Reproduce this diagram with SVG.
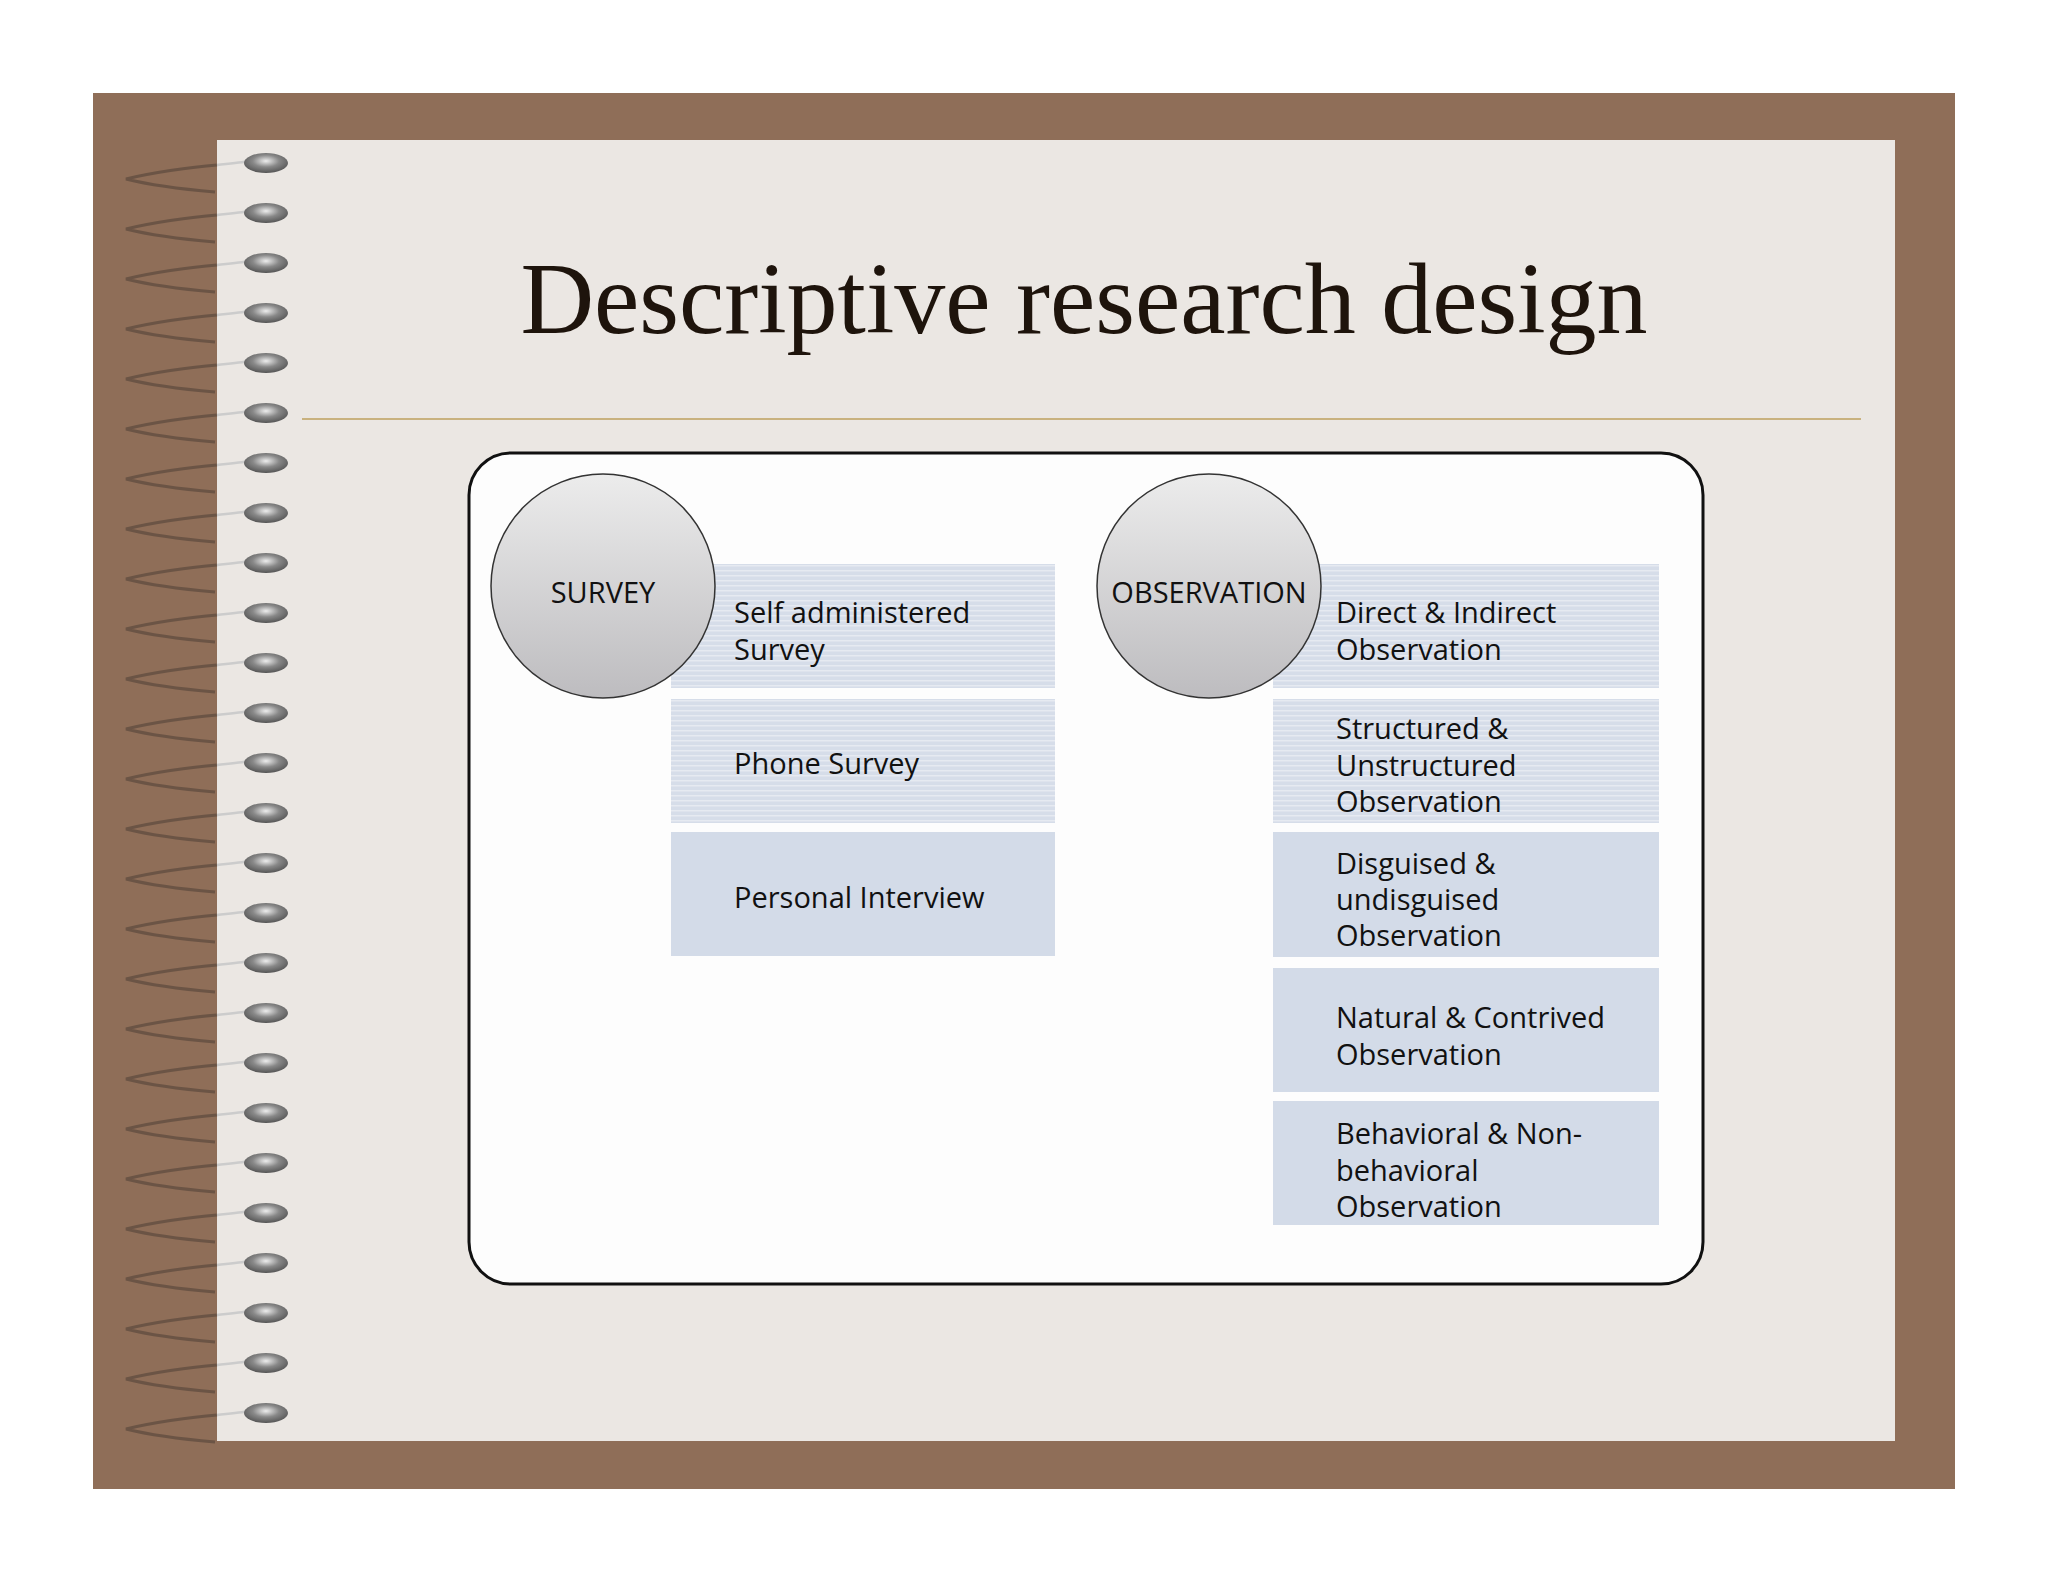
<svg xmlns="http://www.w3.org/2000/svg" width="2048" height="1582" viewBox="0 0 2048 1582">
<defs>
<style>
.t{font-family:"Open Sans","Noto Sans","Liberation Sans",sans-serif;font-size:29px;fill:#111}
.c{font-family:"Open Sans","Noto Sans","Liberation Sans",sans-serif;font-size:29px;fill:#111;text-anchor:middle}
.box{fill:url(#stripe)}
.box2{fill:#d3dbe8}
.circ{fill:url(#cg);stroke:#333;stroke-width:1.5}
</style>
<pattern id="stripe" width="8" height="5" patternUnits="userSpaceOnUse">
<rect width="8" height="5" fill="#d6dde9"/><rect width="8" height="1.5" fill="#e6eaf1"/>
</pattern>
<linearGradient id="cg" x1="0" y1="0" x2="0" y2="1">
<stop offset="0" stop-color="#ececec"/><stop offset="1" stop-color="#bdbcbf"/>
</linearGradient>
<radialGradient id="rg" cx="0.5" cy="0.4" r="0.6">
<stop offset="0" stop-color="#eee"/><stop offset="0.5" stop-color="#888"/><stop offset="1" stop-color="#555"/>
</radialGradient>
<g id="ring">
<path d="M217 0 C190 2 150 8 126 14 C150 20 180 24 215 27" fill="none" stroke="#6b5445" stroke-width="3"/>
<path d="M217 0 C235 -2 245 -3 250 -4" fill="none" stroke="#ccc" stroke-width="2.5"/>
<ellipse cx="266" cy="-2" rx="22" ry="10" fill="url(#rg)"/>
</g>
</defs>
<rect width="2048" height="1582" fill="#fff"/>
<rect x="93" y="93" width="1862" height="1396" fill="#8f6e58"/>
<rect x="217" y="140" width="1678" height="1301" fill="#ebe7e3"/>
<g id="spiral">
<use href="#ring" y="165"/><use href="#ring" y="215"/><use href="#ring" y="265"/><use href="#ring" y="315"/><use href="#ring" y="365"/><use href="#ring" y="415"/><use href="#ring" y="465"/><use href="#ring" y="515"/><use href="#ring" y="565"/><use href="#ring" y="615"/><use href="#ring" y="665"/><use href="#ring" y="715"/><use href="#ring" y="765"/><use href="#ring" y="815"/><use href="#ring" y="865"/><use href="#ring" y="915"/><use href="#ring" y="965"/><use href="#ring" y="1015"/><use href="#ring" y="1065"/><use href="#ring" y="1115"/><use href="#ring" y="1165"/><use href="#ring" y="1215"/><use href="#ring" y="1265"/><use href="#ring" y="1315"/><use href="#ring" y="1365"/><use href="#ring" y="1415"/>
</g>
<text x="1084" y="333" font-family="'Liberation Serif',serif" font-size="102" fill="#1e140c" text-anchor="middle">Descriptive research design</text>
<line x1="302" y1="419" x2="1861" y2="419" stroke="#c9b27f" stroke-width="2"/>
<rect x="469" y="453" width="1234" height="831" rx="42" fill="#fdfdfd" stroke="#111" stroke-width="3"/>
<g id="survey-items">
<g id="s1"><rect class="box" x="671" y="564" width="384" height="124"/><text class="t" x="734" y="623">Self administered</text><text class="t" x="734" y="660">Survey</text></g>
<g id="s2"><rect class="box" x="671" y="699" width="384" height="124"/><text class="t" x="734" y="774">Phone Survey</text></g>
<g id="s3"><rect class="box2" x="671" y="832" width="384" height="124"/><text class="t" x="734" y="908">Personal Interview</text></g>
</g>
<g id="survey"><circle class="circ" cx="603" cy="586" r="112"/><text class="c" x="603" y="603">SURVEY</text></g>
<g id="obs-items">
<g id="o1"><rect class="box" x="1273" y="564" width="386" height="124"/><text class="t" x="1336" y="623">Direct &amp; Indirect</text><text class="t" x="1336" y="660">Observation</text></g>
<g id="o2"><rect class="box" x="1273" y="699" width="386" height="124"/><text class="t" x="1336" y="739">Structured &amp;</text><text class="t" x="1336" y="776">Unstructured</text><text class="t" x="1336" y="812">Observation</text></g>
<g id="o3"><rect class="box2" x="1273" y="832" width="386" height="125"/><text class="t" x="1336" y="874">Disguised &amp;</text><text class="t" x="1336" y="910">undisguised</text><text class="t" x="1336" y="946">Observation</text></g>
<g id="o4"><rect class="box2" x="1273" y="968" width="386" height="124"/><text class="t" x="1336" y="1028">Natural &amp; Contrived</text><text class="t" x="1336" y="1065">Observation</text></g>
<g id="o5"><rect class="box2" x="1273" y="1101" width="386" height="124"/><text class="t" x="1336" y="1144">Behavioral &amp; Non-</text><text class="t" x="1336" y="1181">behavioral</text><text class="t" x="1336" y="1217">Observation</text></g>
</g>
<g id="observation"><circle class="circ" cx="1209" cy="586" r="112"/><text class="c" x="1209" y="603">OBSERVATION</text></g>
<g id="connectors"/>
</svg>
